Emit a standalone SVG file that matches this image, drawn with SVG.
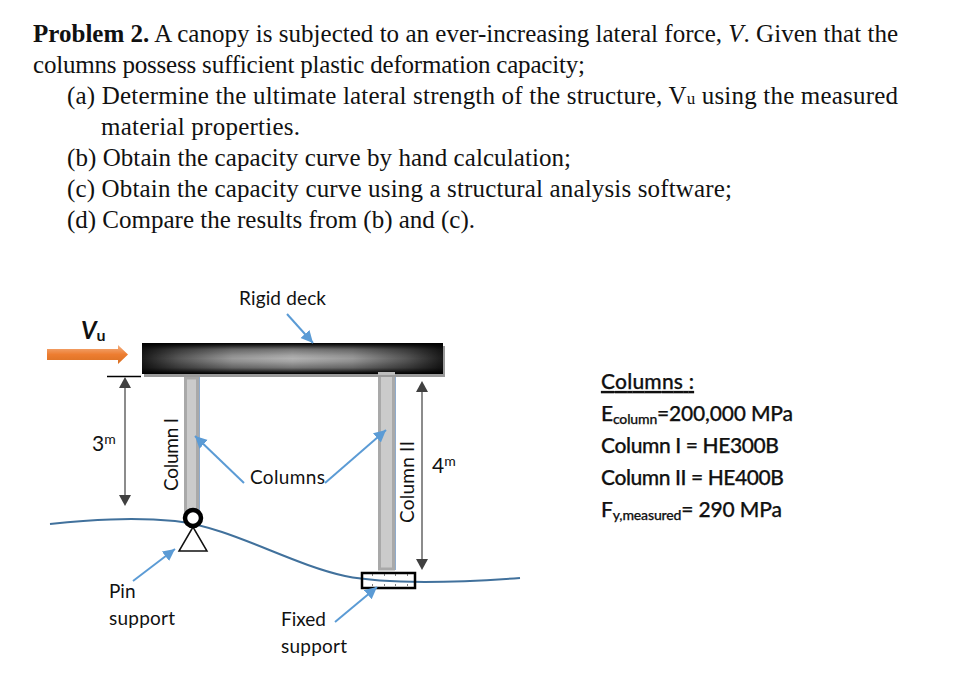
<svg xmlns="http://www.w3.org/2000/svg" width="956" height="678" viewBox="0 0 956 678">
<style>
.b{font-family:"Liberation Serif","DejaVu Serif",serif;font-size:25px;fill:#111}
.l{font-family:Lato,"Open Sans",sans-serif;font-size:19px;fill:#111}
.r{font-family:Lato,"Open Sans",sans-serif;font-size:21px;font-weight:500;fill:#111;stroke:#111;stroke-width:.25}
.a{stroke:#5b9bd5;stroke-width:2;fill:none;marker-end:url(#bh)}
.d{stroke:#666;stroke-width:1.500;fill:none}
.col{fill:#cbcbcb;stroke:#a9a9a9;stroke-width:3}
</style>
<defs>
<marker id="bh" markerUnits="userSpaceOnUse" markerWidth="14" markerHeight="14" refX="12" refY="6" orient="auto"><path d="M0 0L12 6L0 12Z" fill="#5b9bd5"/></marker>
<linearGradient id="dh" x1="0" x2="1" y1="0" y2="0"><stop offset="0" stop-color="#1a1a1a"/><stop offset=".12" stop-color="#555"/><stop offset=".3" stop-color="#999"/><stop offset=".5" stop-color="#b2b2b2"/><stop offset=".7" stop-color="#999"/><stop offset=".88" stop-color="#555"/><stop offset="1" stop-color="#1a1a1a"/></linearGradient>
<linearGradient id="dv" x1="0" x2="0" y1="0" y2="1"><stop offset="0" stop-color="#000" stop-opacity="1"/><stop offset=".06" stop-color="#000" stop-opacity=".85"/><stop offset=".2" stop-color="#000" stop-opacity=".35"/><stop offset=".4" stop-color="#000" stop-opacity=".08"/><stop offset=".5" stop-color="#000" stop-opacity="0"/><stop offset=".6" stop-color="#000" stop-opacity=".08"/><stop offset=".8" stop-color="#000" stop-opacity=".35"/><stop offset=".94" stop-color="#000" stop-opacity=".85"/><stop offset="1" stop-color="#000" stop-opacity="1"/></linearGradient>
<linearGradient id="og" x1="0" x2="0" y1="0" y2="1"><stop offset="0" stop-color="#f4b183"/><stop offset=".5" stop-color="#ed7d31"/><stop offset="1" stop-color="#d86f22"/></linearGradient>
</defs>
<g id="problem-text">
<text class="b" x="33" y="42" textLength="865" lengthAdjust="spacing"><tspan font-weight="bold">Problem 2.</tspan> A canopy is subjected to an ever-increasing lateral force, <tspan font-style="italic">V</tspan>. Given that the</text>
<text class="b" x="33" y="73" textLength="552" lengthAdjust="spacing">columns possess sufficient plastic deformation capacity;</text>
<text class="b" x="67" y="104" textLength="831" lengthAdjust="spacing">(a) Determine the ultimate lateral strength of the structure, V<tspan font-size="17">u</tspan> using the measured</text>
<text class="b" x="101" y="135" textLength="199" lengthAdjust="spacing">material properties.</text>
<text class="b" x="67" y="166" textLength="504" lengthAdjust="spacing">(b) Obtain the capacity curve by hand calculation;</text>
<text class="b" x="67" y="197" textLength="665" lengthAdjust="spacing">(c) Obtain the capacity curve using a structural analysis software;</text>
<text class="b" x="67" y="228" textLength="408" lengthAdjust="spacing">(d) Compare the results from (b) and (c).</text>
</g>
<g id="ground"><path d="M50 524C90 520 130 517 175 521C230 527 290 564 345 576C385 584 450 583 520 578" fill="none" stroke="#41719c" stroke-width="2"/></g>
<g id="column-1"><line x1="199" y1="377" x2="199" y2="513" stroke="#8fabcc" stroke-width="2"/><rect class="col" x="185.500" y="378" width="12" height="136"/><text class="l" transform="translate(178 491) rotate(-90)" textLength="73">Column I</text></g>
<g id="column-2"><line x1="395" y1="372" x2="395" y2="570" stroke="#8fabcc" stroke-width="2"/><rect class="col" x="379.500" y="373" width="14" height="196"/><text class="l" transform="translate(414 523) rotate(-90)" textLength="82">Column II</text></g>
<g id="deck"><rect x="144" y="346" width="301" height="31" fill="#999"/><rect x="142" y="343" width="301" height="31" fill="url(#dh)"/><rect x="142" y="343" width="301" height="31" fill="url(#dv)"/><rect x="378" y="372" width="17" height="3" fill="#bdbdbd"/><text class="l" x="239" y="305" textLength="87">Rigid deck</text></g>
<g id="pin-support"><path d="M193 527L179 551H207Z" fill="#fff" stroke="#111" stroke-width="1.500"/><circle cx="193" cy="518" r="8" fill="#fff" stroke="#000" stroke-width="4.500"/><text class="l" x="109" y="598">Pin</text><text class="l" x="109" y="625" textLength="66">support</text></g>
<g id="fixed-support"><rect x="362" y="573" width="53" height="15" fill="none" stroke="#000" stroke-width="2.500"/><path d="M372 575h1M384 575h1M395 575h1M407 575h1M372 585h1M384 585h1M395 585h1M407 585h1" stroke="#000" stroke-width="1"/><text class="l" x="281" y="626">Fixed</text><text class="l" x="281" y="653" textLength="66">support</text></g>
<g id="load"><path d="M47 349H118V345L128 354.500L118 364V360H47Z" fill="url(#og)"/><text x="81" y="339" font-family="Lato,sans-serif" font-size="24" font-weight="bold" font-style="italic" fill="#111">V<tspan font-size="16" font-style="normal" dy="2">u</tspan></text></g>
<g id="connectors">
<line x1="107" y1="376.500" x2="141" y2="376.500" stroke="#000" stroke-width="1.500"/>
<line class="d" x1="125" y1="385" x2="125" y2="497"/><path d="M125 377L131 388H119Z" fill="#404040"/><path d="M125 506L131 495H119Z" fill="#404040"/>
<line class="d" x1="422" y1="390" x2="422" y2="560"/><path d="M422 381L428 392H416Z" fill="#404040"/><path d="M422 570L428 559H416Z" fill="#404040"/>
<line class="a" x1="287" y1="314" x2="313" y2="343"/>
<line class="a" x1="244" y1="483" x2="195" y2="436"/>
<line class="a" x1="325" y1="483" x2="386" y2="430"/>
<line class="a" x1="133" y1="581" x2="175" y2="549"/>
<line class="a" x1="335" y1="622" x2="377" y2="587"/>
</g>
<g id="dimension-labels">
<text class="l" x="92" y="451" style="font-size:21px">3<tspan style="font-size:14px" dy="-7">m</tspan></text>
<text class="l" x="432" y="473" style="font-size:21px">4<tspan style="font-size:14px" dy="-7">m</tspan></text>
<text class="l" x="250" y="484" textLength="75">Columns</text>
</g>
<g id="properties">
<text class="r" x="601" y="389" text-decoration="underline" textLength="93">Columns :</text>
<text class="r" x="601" y="421" textLength="192">E<tspan font-size="14" dy="3">column</tspan><tspan dy="-3">=200,000 MPa</tspan></text>
<text class="r" x="601" y="453" textLength="178">Column I = HE300B</text>
<text class="r" x="601" y="485" textLength="183">Column II = HE400B</text>
<text class="r" x="601" y="517" textLength="181">F<tspan font-size="14" dy="3">y,measured</tspan><tspan dy="-3">= 290 MPa</tspan></text>
</g>
</svg>
